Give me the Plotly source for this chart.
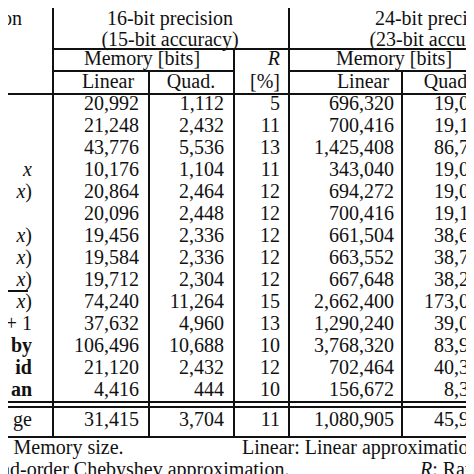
import plotly.graph_objects as go

# table data (cropped view of a larger table)
row_labels = ["", "", "", "<i>x</i>", "<i>x</i>)", "", "<i>x</i>)", "<i>x</i>)", "<i>x</i>)",
              "<i>x</i>)", "+ 1", "<b>by</b>", "<b>id</b>", "<b>an</b>"]
lin16 = ["20,992", "21,248", "43,776", "10,176", "20,864", "20,096", "19,456", "19,584",
         "19,712", "74,240", "37,632", "106,496", "21,120", "4,416"]
quad16 = ["1,112", "2,432", "5,536", "1,104", "2,464", "2,448", "2,336", "2,336",
          "2,304", "11,264", "4,960", "10,688", "2,432", "444"]
ratio = ["5", "11", "13", "11", "12", "12", "12", "12", "12", "15", "13", "10", "12", "10"]
lin24 = ["696,320", "700,416", "1,425,408", "343,040", "694,272", "700,416", "661,504",
         "663,552", "667,648", "2,662,400", "1,290,240", "3,768,320", "702,464", "156,672"]
quad24 = ["19,072", "19,136", "86,784", "19,008", "19,072", "19,136", "38,656", "38,784",
          "38,272", "173,056", "39,040", "83,968", "40,320", "8,384"]
avg = {"label": "ge", "lin16": "31,415", "quad16": "3,704", "ratio": "11",
       "lin24": "1,080,905", "quad24": "45,906"}

FONT = dict(family="Liberation Serif", size=20, color="#111")
row_y = [97 + 22 * i for i in range(len(lin16))]
avg_y = 413

fig = go.Figure()


def col(xpos, vals, ys, pos):
    fig.add_trace(go.Scatter(x=[xpos] * len(vals), y=ys, text=vals, mode="text",
                             textposition=pos, textfont=FONT, hoverinfo="skip",
                             cliponaxis=True, showlegend=False))


col(24, row_labels + [avg["label"]], row_y + [avg_y], "middle left")
col(131, lin16 + [avg["lin16"]], row_y + [avg_y], "middle left")
col(216, quad16 + [avg["quad16"]], row_y + [avg_y], "middle left")
col(272, ratio + [avg["ratio"]], row_y + [avg_y], "middle left")
col(386, lin24 + [avg["lin24"]], row_y + [avg_y], "middle left")
col(481, quad24 + [avg["quad24"]], row_y + [avg_y], "middle left")

# headers
hdr_x = [-6, 162, 162, 134, 100, 183, 272, 272, 430, 430, 386, 355, 440]
hdr_y = [12, 12, 33, 52, 75, 75, 52, 75, 12, 33, 52, 75, 75]
hdr_t = ["on", "16-bit precision", "(15-bit accuracy)", "Memory [bits]", "Linear", "Quad.",
         "<i>R</i>", "[%]", "24-bit precision", "(23-bit accuracy)", "Memory [bits]",
         "Linear", "Quad."]
hdr_p = ["middle right", "middle center", "middle center", "middle center", "middle center",
         "middle center", "middle left", "middle left", "middle center", "middle center",
         "middle center", "middle center", "middle center"]
fig.add_trace(go.Scatter(x=hdr_x, y=hdr_y, text=hdr_t, mode="text", textposition=hdr_p,
                         textfont=FONT, hoverinfo="skip", showlegend=False))

# footnotes
foot_x = [-5, 234, -8, 412]
foot_y = [441, 441, 463, 463]
foot_t = [": Memory size.", "Linear: Linear approximation.",
          "nd-order Chebyshev approximation.", "<i>R</i>: Ratio"]
fig.add_trace(go.Scatter(x=foot_x, y=foot_y, text=foot_t, mode="text",
                         textposition="middle right", textfont=FONT, hoverinfo="skip",
                         showlegend=False))

lines = [
    (45, 0, 45, 429), (141, 63, 141, 429), (226, 41, 226, 429), (281, 0, 281, 429),
    (394, 63, 394, 429),
    (45, 41, 474, 41), (45, 63, 226, 63), (281, 63, 474, 63), (0, 86, 474, 86),
    (0, 394, 474, 394), (0, 399, 474, 399), (0, 429, 474, 429), (0, 283, 20, 283),
]
for x0, y0, x1, y1 in lines:
    fig.add_shape(type="line", x0=x0, y0=y0, x1=x1, y1=y1,
                  line=dict(color="#111", width=2))

fig.update_layout(
    width=474, height=474, margin=dict(l=0, r=0, t=0, b=0),
    plot_bgcolor="white", paper_bgcolor="white",
    xaxis=dict(range=[0, 474], visible=False, fixedrange=True),
    yaxis=dict(range=[474, 0], visible=False, fixedrange=True),
)

fig.write_html("out.html")
